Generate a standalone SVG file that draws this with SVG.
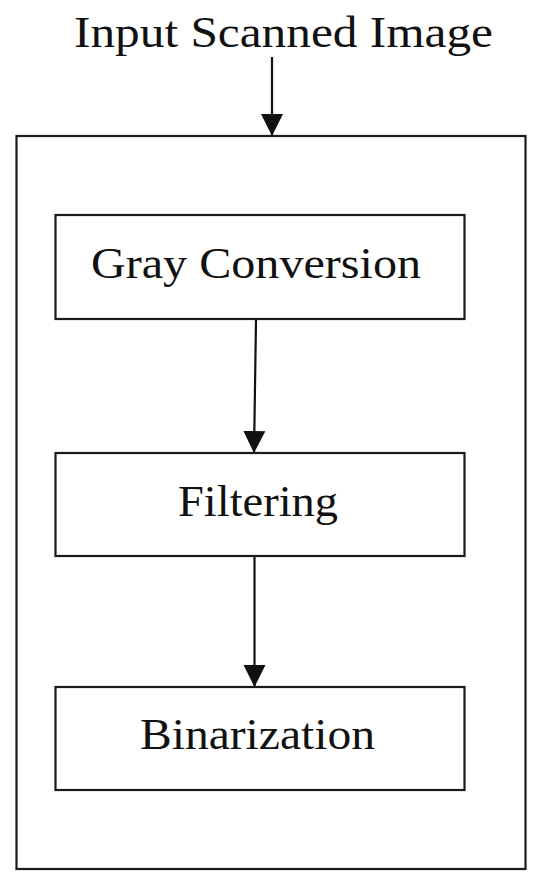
<svg xmlns="http://www.w3.org/2000/svg" width="540" height="889" viewBox="0 0 540 889">
  <style>
    .box { fill: #ffffff; stroke: #1a1a1a; stroke-width: 2.2; }
    .lbl { font-family: "Liberation Serif", "Times New Roman", serif; font-size: 45px; fill: #111111; text-anchor: middle; }
    .conn { stroke: #111111; stroke-width: 2.2; fill: none; }
  </style>
  <defs>
    <marker id="arrow" markerUnits="userSpaceOnUse" markerWidth="24" markerHeight="24" viewBox="0 0 24 24" refX="22" refY="12" orient="auto">
      <path d="M0,1 L22,12 L0,23 Z" fill="#111111"/>
    </marker>
  </defs>
  <rect width="540" height="889" fill="#ffffff"/>
  <g id="title">
    <text class="lbl" x="283.5" y="47" textLength="419" lengthAdjust="spacingAndGlyphs">Input Scanned Image</text>
  </g>
  <g id="container">
    <rect class="box" x="16.5" y="136" width="509" height="733"/>
  </g>
  <g id="gray">
    <rect class="box" x="55.5" y="215" width="409" height="104"/>
    <text class="lbl" x="256" y="278" textLength="330" lengthAdjust="spacingAndGlyphs">Gray Conversion</text>
  </g>
  <g id="filtering">
    <rect class="box" x="55.5" y="453" width="409" height="103"/>
    <text class="lbl" x="258" y="516" textLength="160" lengthAdjust="spacingAndGlyphs">Filtering</text>
  </g>
  <g id="binarization">
    <rect class="box" x="55.5" y="687" width="409" height="103"/>
    <text class="lbl" x="257.5" y="749" textLength="235" lengthAdjust="spacingAndGlyphs">Binarization</text>
  </g>
  <g id="connectors">
    <line class="conn" x1="272" y1="57" x2="272" y2="136" marker-end="url(#arrow)"/>
    <line class="conn" x1="256" y1="320" x2="254" y2="453" marker-end="url(#arrow)"/>
    <line class="conn" x1="254.5" y1="557" x2="254.5" y2="687" marker-end="url(#arrow)"/>
  </g>
</svg>
